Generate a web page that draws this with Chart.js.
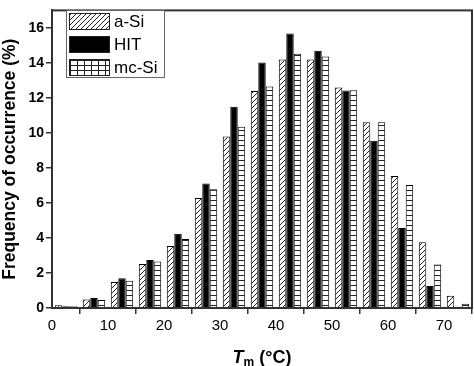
<!DOCTYPE html>
<html>
<head>
<meta charset="utf-8">
<script src="https://cdn.jsdelivr.net/npm/chart.js@4.4.1/dist/chart.umd.min.js"></script>
<style>
  html, body { margin: 0; padding: 0; background: #fff; }
  #wrap { width: 474px; height: 366px; }
</style>
</head>
<body>
<div id="wrap"><canvas id="c" width="474" height="366"></canvas></div>
<script>
// bin centres of T_m (5 degC wide bins)
var binCenters = [2.5, 7.5, 12.5, 17.5, 22.5, 27.5, 32.5, 37.5, 42.5, 47.5, 52.5, 57.5, 62.5, 67.5, 72.5];
var aSi  = [0.15, 0.48, 1.48, 2.52, 3.54, 6.28, 9.8, 12.39, 14.2, 14.2, 12.59, 10.61, 7.54, 3.76, 0.7];
var hit  = [0.1, 0.57, 1.7, 2.74, 4.24, 7.11, 11.5, 14.02, 15.68, 14.7, 12.43, 9.56, 4.57, 1.26, 0.07];
var mcSi = [0.1, 0.46, 1.55, 2.65, 3.94, 6.78, 10.35, 12.65, 14.52, 14.37, 12.44, 10.61, 7.02, 2.48, 0.24];
var seriesNames = ['a-Si', 'HIT', 'mc-Si'];
var xTicks = [0, 10, 20, 30, 40, 50, 60, 70];
var yTicks = [0, 2, 4, 6, 8, 10, 12, 14, 16];

var FONT = "'Liberation Sans', Arial, sans-serif";

function makeTile(w, h, draw) {
	var cv = document.createElement('canvas');
	cv.width = w; cv.height = h;
	var g = cv.getContext('2d');
	g.fillStyle = '#fff';
	g.fillRect(0, 0, w, h);
	g.strokeStyle = '#222';
	g.lineWidth = 1;
	draw(g);
	return document.getElementById('c').getContext('2d').createPattern(cv, 'repeat');
}

// diagonal hatch  "/"
var hatch = makeTile(5, 5, function (g) {
	g.beginPath();
	g.moveTo(0, 5); g.lineTo(5, 0);
	g.moveTo(-1, 1); g.lineTo(1, -1);
	g.moveTo(4, 6); g.lineTo(6, 4);
	g.stroke();
});
// horizontal lines (inside the bars)
var hlines = makeTile(8, 5, function (g) {
	g.beginPath();
	g.moveTo(0, 0.5); g.lineTo(8, 0.5);
	g.stroke();
});
// grid (legend swatch)
var grid = makeTile(7, 5, function (g) {
	g.beginPath();
	g.moveTo(0, 0.5); g.lineTo(7, 0.5);
	g.moveTo(0.5, 0); g.lineTo(0.5, 5);
	g.stroke();
});

function pts(vals) {
	return vals.map(function (v, i) { return { x: binCenters[i], y: v }; });
}

var fills = [hatch, '#000', hlines];
var swatches = [hatch, '#000', grid];

var framePlugin = {
	id: 'frame',
	afterDraw: function (chart) {
		var ctx = chart.ctx, a = chart.chartArea;
		ctx.save();
		ctx.strokeStyle = '#333';
		ctx.lineWidth = 2;
		ctx.strokeRect(a.left, a.top, a.right - a.left, a.bottom - a.top);

		// legend box
		ctx.fillStyle = '#fff';
		ctx.fillRect(66.5, 10.5, 98, 67);
		ctx.strokeStyle = '#666';
		ctx.lineWidth = 1;
		ctx.strokeRect(66.5, 10.5, 98, 67);
		var rows = [13, 36, 59];
		ctx.font = '17px ' + FONT;
		ctx.textBaseline = 'middle';
		for (var i = 0; i < 3; i++) {
			ctx.fillStyle = swatches[i];
			ctx.fillRect(69.5, rows[i] + 0.5, 40, 16);
			ctx.strokeStyle = '#222';
			ctx.strokeRect(69.5, rows[i] + 0.5, 40, 16);
			ctx.fillStyle = '#000';
			ctx.fillText(seriesNames[i], 114, rows[i] + 9);
		}

		// x axis title  T_m (°C)
		var cx = (a.left + a.right) / 2;
		var y = 363;
		ctx.textBaseline = 'alphabetic';
		ctx.font = 'italic bold 18px ' + FONT;
		var wT = ctx.measureText('T').width;
		ctx.font = 'bold 12px ' + FONT;
		var wm = ctx.measureText('m').width;
		ctx.font = 'bold 18px ' + FONT;
		var wr = ctx.measureText(' (\u00B0C)').width;
		var x0 = cx - (wT + wm + wr) / 2;
		ctx.fillStyle = '#000';
		ctx.font = 'italic bold 18px ' + FONT;
		ctx.fillText('T', x0, y);
		ctx.font = 'bold 12px ' + FONT;
		ctx.fillText('m', x0 + wT, y + 3);
		ctx.font = 'bold 18px ' + FONT;
		ctx.fillText(' (\u00B0C)', x0 + wT + wm, y);
		ctx.restore();
	}
};

new Chart(document.getElementById('c'), {
	type: 'bar',
	data: {
		datasets: seriesNames.map(function (name, i) {
			return {
				label: name,
				data: pts([aSi, hit, mcSi][i]),
				backgroundColor: fills[i],
				borderColor: '#000',
				borderWidth: 1,
				categoryPercentage: 0.8,
				barPercentage: 1.0
			};
		})
	},
	options: {
		responsive: false,
		animation: false,
		layout: { padding: { top: 2, right: 2, left: 0, bottom: 0 } },
		plugins: { legend: { display: false }, tooltip: { enabled: false } },
		scales: {
			x: {
				type: 'linear',
				min: 0, max: 75,
				offset: false,
				afterBuildTicks: function (s) { s.ticks = xTicks.map(function (v) { return { value: v }; }); },
				afterFit: function (s) { s.height = 58; },
				grid: { drawOnChartArea: false, drawTicks: true, tickLength: 6, color: '#333', lineWidth: 1.5 },
				border: { color: '#333', width: 2 },
				ticks: { color: '#000', padding: 3, maxRotation: 0, font: { family: FONT, size: 15 } }
			},
			y: {
				min: 0, max: 17,
				afterBuildTicks: function (s) { s.ticks = yTicks.map(function (v) { return { value: v }; }); },
				afterFit: function (s) { s.width = 52; },
				grid: { drawOnChartArea: false, drawTicks: true, tickLength: 6, color: '#333', lineWidth: 1.5 },
				border: { color: '#333', width: 2 },
				ticks: { color: '#000', padding: 2, font: { family: FONT, size: 14, weight: 'bold' } },
				title: {
					display: true,
					text: 'Frequency of occurrence (%)',
					color: '#000',
					padding: { top: 0, bottom: 0 },
					font: { family: FONT, size: 17.5, weight: 'bold' }
				}
			}
		}
	},
	plugins: [framePlugin]
});
</script>
</body>
</html>
